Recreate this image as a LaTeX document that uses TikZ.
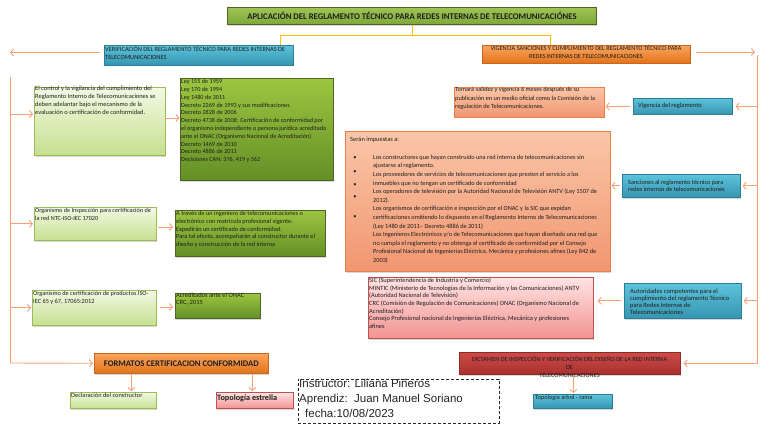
\documentclass[tikz,border=0pt]{standalone}
\usepackage{fontspec}
\setmainfont{Carlito}
\newfontfamily\arialf{Liberation Sans}
\usetikzlibrary{arrows.meta,shadows}
\definecolor{conC}{HTML}{F4A178}
\definecolor{yelC}{HTML}{FFC000}
\definecolor{titT}{HTML}{9DC454}\definecolor{titB}{HTML}{7EA83A}\definecolor{titD}{HTML}{4F6228}
\definecolor{lgT}{HTML}{F2F9E4}\definecolor{lgB}{HTML}{C6E08F}\definecolor{lgD}{HTML}{9BBB59}
\definecolor{dgT}{HTML}{9CC640}\definecolor{dgB}{HTML}{648F26}\definecolor{dgD}{HTML}{4F6228}
\definecolor{blT}{HTML}{5CC3DC}\definecolor{blB}{HTML}{3795B0}\definecolor{blD}{HTML}{2C7E95}
\definecolor{orT}{HTML}{FAA55E}\definecolor{orB}{HTML}{E2731A}\definecolor{orD}{HTML}{C8661E}
\definecolor{saT}{HTML}{FAC6A8}\definecolor{saB}{HTML}{F19670}\definecolor{saD}{HTML}{E8804A}
\definecolor{pkT}{HTML}{FFE3E3}\definecolor{pkB}{HTML}{F29393}\definecolor{pkD}{HTML}{C0504D}
\definecolor{rdT}{HTML}{CC4B48}\definecolor{rdB}{HTML}{A8302E}\definecolor{rdD}{HTML}{8C2A28}
\begin{document}
\begin{tikzpicture}[x=1pt,y=-1pt,
  bx/.style={draw, rectangle, inner sep=0pt, anchor=north west, line width=0.6pt,
    drop shadow={shadow xshift=0.8pt, shadow yshift=-1.2pt, opacity=0.3}},
  titbox/.style={bx, top color=titT, bottom color=titB, draw=titD, line width=0.9pt},
  lgbox/.style={bx, top color=lgT, bottom color=lgB, draw=lgD},
  dgbox/.style={bx, top color=dgT, bottom color=dgB, draw=dgD},
  blbox/.style={bx, top color=blT, bottom color=blB, draw=blD},
  orbox/.style={bx, top color=orT, bottom color=orB, draw=orD},
  sabox/.style={bx, top color=saT, bottom color=saB, draw=saD},
  pkbox/.style={bx, top color=pkT, bottom color=pkB, draw=pkD},
  rdbox/.style={bx, top color=rdT, bottom color=rdB, draw=rdD},
  tx/.style={anchor=north west, inner sep=0pt, align=left, text=black!88, font=\fontsize{6.4}{7.8}\selectfont},
  con/.style={draw=conC, line width=0.9pt},
  arr/.style={con, -{Straight Barb[length=3pt,width=7pt]}},
  ycon/.style={draw=yelC, line width=0.9pt},
]
\useasboundingbox (0,0) rectangle (768,433);
\fill[white] (0,0) rectangle (768,433);

% ---------- boxes ----------
\node[titbox, minimum width=369pt, minimum height=17pt] (tit) at (227,7) {};
\node[font=\bfseries\fontsize{8.7}{10}\selectfont, text=black!88, inner sep=0pt] (titt) at (tit.center) {APLICACIÓN DEL REGLAMENTO TÉCNICO PARA REDES INTERNAS DE TELECOMUNICACIÓNES};

\node[blbox, minimum width=189pt, minimum height=20pt] (vb) at (104,45) {};
\node[tx, font=\fontsize{6.4}{8}\selectfont] (vbt) at (105,45.9) {VERIFICACIÓN DEL REGLAMENTO TÉCNICO PARA REDES INTERNAS DE\\TELECOMUNICACIONES};

\node[orbox, minimum width=208pt, minimum height=18pt] (ob) at (482,45) {};
\node[tx, anchor=north, align=center, font=\fontsize{6.3}{7.7}\selectfont] (obt) at (586,45.3) {VIGENCIA SANCIONES Y CUMPLIMIENTO DEL REGLAMENTO TÉCNICO PARA\\REDES INTERNAS DE TELECOMUNICACIONES};

\node[lgbox, minimum width=131pt, minimum height=68pt] (b1) at (34,87) {};
\node[tx] (b1t) at (35,86.1) {El control y la vigilancia del cumplimiento del\\Reglamento Interno de Telecomunicaciones se\\deben adelantar bajo el mecanismo de la\\evaluación o certificación de conformidad.};

\node[dgbox, minimum width=153pt, minimum height=102pt] (b2) at (180,78) {};
\node[tx, font=\fontsize{6.2}{7.8}\selectfont] (b2t) at (181,79.2) {Ley 155 de 1959\\Ley 170 de 1994\\Ley 1480 de 2011\\Decreto 2269 de 1993 y sus modificaciones\\Decreto 2828 de 2006\\Decreto 4738 de 2008: Certificación de conformidad por\\el organismo independiente o persona jurídica acreditado\\ante el ONAC (Organismo Nacional de Acreditación)\\Decreto 1469 de 2010\\Decreto 4886 de 2011\\Decisiones CAN: 376, 419 y 562};

\node[lgbox, minimum width=122pt, minimum height=33pt] (b3) at (34,207) {};
\node[tx, font=\fontsize{6.2}{8.3}\selectfont] (b3t) at (35,207.6) {Organismo de Inspección para certificación de\\la red NTC-ISO-IEC 17020};

\node[dgbox, minimum width=150pt, minimum height=46pt] (b4) at (175,210) {};
\node[tx, font=\fontsize{6.3}{7.7}\selectfont] (b4t) at (176,211.1) {A través de un ingeniero de telecomunicaciones o\\electrónico con matrícula profesional vigente.\\Expedirán un certificado de conformidad.\\Para tal efecto, acompañarán al constructor durante el\\diseño y construcción de la red interna};

\node[lgbox, minimum width=124pt, minimum height=35pt] (b5) at (32,290) {};
\node[tx, font=\fontsize{6.3}{7.7}\selectfont] (b5t) at (33,290.8) {Organismo de certificación de productos ISO-\\IEC 65 y 67, 17065:2012};

\node[dgbox, minimum width=85pt, minimum height=25pt] (b6) at (175,293) {};
\node[tx, font=\fontsize{6.5}{7}\selectfont] (b6t) at (176,292.5) {Acreditados ante el ONAC\\CRC, 2015};

\node[orbox, minimum width=174pt, minimum height=20pt] (fb) at (94,353) {};
\node[font=\bfseries\fontsize{8.6}{9}\selectfont, text=black!88, inner sep=0pt] (fbt) at (fb.center) {FORMATOS CERTIFICACION CONFORMIDAD};

\node[lgbox, minimum width=86pt, minimum height=16pt] (db) at (70,392) {};
\node[tx, anchor=west] (dbt) at (71,395.5) {Declaración del constructor};

\node[pkbox, minimum width=77pt, minimum height=16pt] (eb) at (216,392) {};
\node[tx, anchor=west, font=\bfseries\fontsize{8.2}{9}\selectfont] (ebt) at (217,398) {Topología estrella};

\node[draw=black!85, dashed, dash pattern=on 3pt off 2pt, line width=0.8pt, rectangle, inner sep=0pt, anchor=north west, minimum width=201pt, minimum height=44pt] (ib) at (298,379) {};
\node[anchor=base west, inner sep=0pt, font=\arialf\fontsize{11.5}{13}\selectfont, text=black!85] (i1) at (299,387) {Instructor: Liliana Piñeros};
\node[anchor=base west, inner sep=0pt, font=\arialf\fontsize{11.5}{13}\selectfont, text=black!85] (i2) at (299,402) {Aprendiz:\ \ Juan Manuel Soriano};
\node[anchor=base west, inner sep=0pt, font=\arialf\fontsize{11.5}{13}\selectfont, text=black!85] (i3) at (305,417) {fecha:10/08/2023};

\node[rdbox, minimum width=221pt, minimum height=22pt] (dict) at (459,352) {};
\node[tx, anchor=north, align=center, font=\fontsize{6.3}{8}\selectfont] (dictt) at (569.5,355.7) {DICTAMEN DE INSPECCIÓN Y VERIFICACIÓN DEL DISEÑO DE LA RED INTERNA\\DE\\TELECOMUNICACIONES};

\node[blbox, minimum width=79pt, minimum height=14pt] (tb) at (533,394) {};
\node[tx, anchor=west, font=\fontsize{6.3}{7}\selectfont] (tbt) at (535,398) {Topología árbol - rama};

\node[sabox, minimum width=150pt, minimum height=30pt] (tm) at (454,87) {};
\node[tx, font=\fontsize{6.3}{8.7}\selectfont] (tmt) at (455,86.8) {Tomará validez y vigencia 6 meses después de su\\publicación en un medio oficial como la Comisión de la\\regulación de Telecomunicaciones.};

\node[blbox, minimum width=99pt, minimum height=16pt] (vg) at (633,98) {};
\node[tx, anchor=west, font=\fontsize{6.5}{7}\selectfont] (vgt) at (638,106) {Vigencia del reglamento};

\node[sabox, minimum width=265pt, minimum height=140pt] (big) at (345,131) {};
\node[tx] (bigh) at (350,136.8) {Serán impuestas a:};
\node[tx, font=\fontsize{6.3}{8.6}\selectfont] (bigt) at (373,154.8) {Los constructores que hayan construido una red interna de telecomunicaciones sin\\ajustarse al reglamento.\\Los proveedores de servicios de telecomunicaciones que presten el servicio a los\\inmuebles que no tengan un certificado de conformidad\\Los operadores de televisión por la Autoridad Nacional de Televisión ANTV (Ley 1507 de\\2012).\\Los organismos de certificación e inspección por el ONAC y la SIC que expidan\\certificaciones omitiendo lo dispuesto en el Reglamento Interno de Telecomunicaciones\\(Ley 1480 de 2011– Decreto 4886 de 2011)\\Los Ingenieros Electrónicos y/o de Telecomunicaciones que hayan diseñado una red que\\no cumpla el reglamento y no obtenga el certificado de conformidad por el Consejo\\Profesional Nacional de Ingenierías Eléctrica, Mecánica y profesiones afines (Ley 842 de\\2003)};
\node[tx, anchor=center] (bu1) at (355,158) {\textbullet};
\node[tx, anchor=center] (bu2) at (355,172) {\textbullet};
\node[tx, anchor=center] (bu3) at (355,185) {\textbullet};
\node[tx, anchor=center] (bu4) at (355,197.5) {\textbullet};
\node[tx, anchor=center] (bu5) at (355,217) {\textbullet};

\node[blbox, minimum width=118pt, minimum height=23pt] (sanc) at (622,174) {};
\node[tx, font=\fontsize{6.3}{7.3}\selectfont] (sanct) at (628,179.5) {Sanciones al reglamento técnico para\\redes internas de telecomunicaciones};

\node[blbox, minimum width=117pt, minimum height=35pt] (auth) at (624,283) {};
\node[tx, font=\fontsize{6.5}{7}\selectfont] (autht) at (630,289) {Autoridades competentes para el\\cumplimiento del reglamento Técnico\\para Redes Internas de\\Telecomunicaciones};

\node[pkbox, minimum width=225pt, minimum height=61pt] (pk) at (368,277) {};
\node[tx, font=\fontsize{6.4}{7.7}\selectfont] (pkt) at (369,277.6) {SIC (Superintendencia de Industria y Comercio)\\MINTIC (Ministerio de Tecnologías de la Información y las Comunicaciones) ANTV\\(Autoridad Nacional de Televisión)\\CRC (Comisión de Regulación de Comunicaciones) ONAC (Organismo Nacional de\\Acreditación)\\Consejo Profesional nacional de Ingenierías Eléctrica, Mecánica y profesiones\\afines};

% ---------- connectors ----------
\coordinate (yl) at (280,35);
\coordinate (yr) at (550,35);
\draw[ycon] (tit.south) -- (tit.south |- yl);
\draw[ycon] (yl |- vb.north) -- (yl) -- (yr) -- (yr |- ob.north);

% left side
\coordinate (LT) at (10,52.5);
\coordinate (L1) at (10,77);
\coordinate (L2) at (10,363);
\draw[arr, shorten <=4pt] (vb.west |- LT) -- (LT);
\draw[con] (L1) -- (L2);
\draw[arr, shorten >=1pt] (L2) -- (fb.west);
\coordinate (a1) at (10,114);
\draw[arr, shorten >=1pt] (a1) -- (a1 -| b1.west);
\draw[arr, shorten >=1pt] (L1 |- b3.west) -- (b3.west);
\draw[arr, shorten >=1pt] (L1 |- b5.west) -- (b5.west);
\coordinate (a2) at (166,118);
\draw[arr, shorten >=0.5pt] (a2) -- (a2 -| b2.west);
\coordinate (a3) at (158,227);
\draw[arr, shorten >=2pt] (a3) -- (a3 -| b4.west);
\coordinate (a4) at (160,307);
\draw[arr, shorten >=2pt] (a4) -- (a4 -| b6.west);
\draw[arr, shorten >=1pt] ([xshift=-50pt]fb.south) -- ([xshift=-50pt]fb.south |- db.north);
\draw[arr, shorten >=1pt] ([xshift=71pt]fb.south) -- ([xshift=71pt]fb.south |- eb.north);

% right side
\coordinate (RT) at (755,52);
\coordinate (R1) at (757,55);
\draw[arr, shorten <=5pt] (ob.east |- RT) -- (RT);
\draw[arr, shorten >=3pt] (R1) -- (R1 |- dict.east) -- (dict.east);
\draw[arr, shorten >=3pt] (R1 |- vg.east) -- (vg.east);
\draw[arr, shorten >=2pt] (R1 |- sanc.east) -- (sanc.east);
\draw[arr, shorten >=2pt] (R1 |- auth.east) -- (auth.east);
\draw[arr, shorten <=3pt, shorten >=1pt] (vg.west) -- (vg.west -| tm.east);
\draw[arr, shorten <=2pt, shorten >=1pt] (sanc.west) -- (sanc.west -| big.east);
\draw[arr, shorten <=3pt, shorten >=4pt] (auth.west) -- (auth.west -| pk.east);
\draw[arr, shorten >=1pt] ([xshift=3.5pt]dict.south) -- ([xshift=3.5pt]dict.south |- tb.north);
\end{tikzpicture}
\end{document}
